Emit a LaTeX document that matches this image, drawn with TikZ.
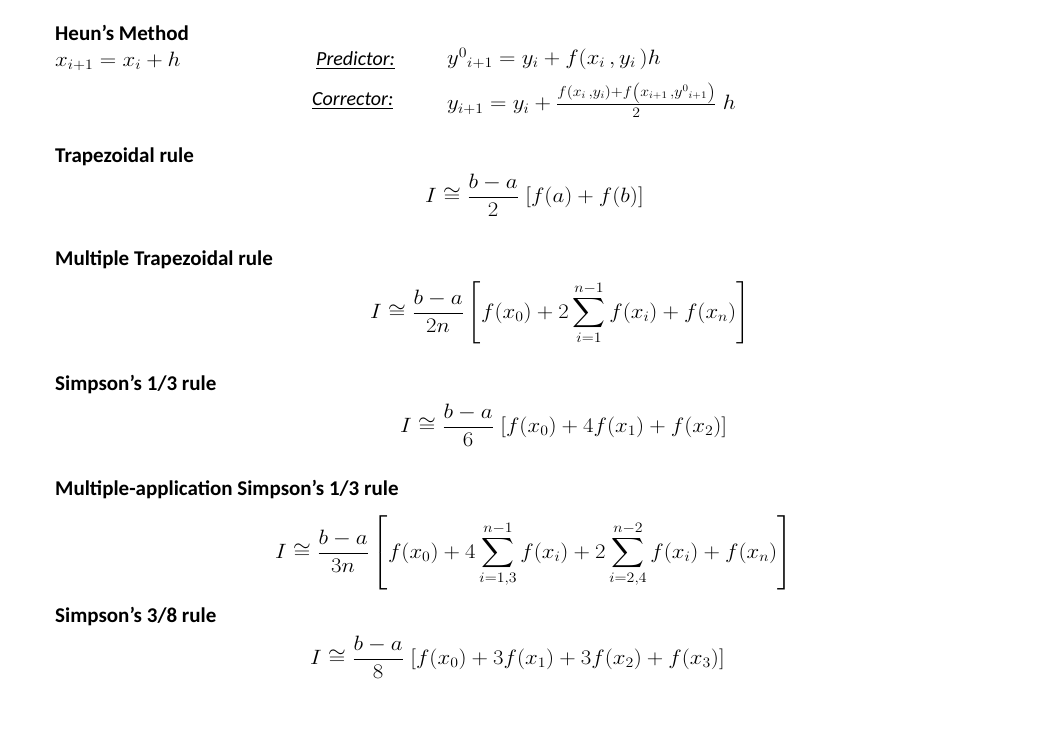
\documentclass[tikz,border=0pt]{standalone}
\usepackage{amsmath}
\usepackage{graphicx}
\usepackage{fontspec}
\setmainfont{Carlito}
\newcommand{\wm}[1]{\scalebox{1.1}[1]{#1}}
\begin{document}
\begin{tikzpicture}[x=1pt,y=-1pt,
  head/.style={anchor=west,inner sep=0,font=\fontsize{21}{24}\selectfont\bfseries},
  lab/.style={anchor=west,inner sep=0,font=\fontsize{20}{24}\selectfont\itshape},
  eq/.style={anchor=west,inner sep=0,font=\fontsize{20}{24}\selectfont}]
\useasboundingbox[fill=white] (0,0) rectangle (1038,736);
\node[head] (h1) at (55,33) {Heun’s Method};
\node[eq] (e0) at (55,61) {\wm{$x_{i+1}=x_i+h$}};
\node[lab] (p) at (316,61) {\underline{Predictor:}};
\node[eq] (e1) at (447,59) {\wm{$y^0{}_{i+1}=y_i+f(x_i\,,y_i\,)h$}};
\node[lab] (c) at (312,101) {\underline{Corrector:}};
\node[eq] (e2) at (447,100) {\wm{$y_{i+1}=y_i+\frac{f(x_i\,,y_i)+f\left(x_{i+1}\,,y^0{}_{i+1}\right)}{2}\;h$}};
\node[head] (h2) at (55,157) {Trapezoidal rule};
\node[eq] (e3) at (425,195) {\wm{$I\cong\dfrac{b-a}{2}\;[f(a)+f(b)]$}};
\node[head] (h3) at (55,260) {Multiple Trapezoidal rule};
\node[eq] (e4) at (370,313) {\wm{$I\cong\dfrac{b-a}{2n}\left[f(x_0)+2\displaystyle\sum_{i=1}^{n-1}f(x_i)+f(x_n)\right]$}};
\node[head] (h4) at (55,385) {Simpson’s 1/3 rule};
\node[eq] (e5) at (400,425) {\wm{$I\cong\dfrac{b-a}{6}\;[f(x_0)+4f(x_1)+f(x_2)]$}};
\node[head] (h5) at (55,490) {Multiple-application Simpson’s 1/3 rule};
\node[eq] (e6) at (275,553) {\wm{$I\cong\dfrac{b-a}{3n}\left[f(x_0)+4\displaystyle\sum_{i=1,3}^{n-1}f(x_i)+2\sum_{i=2,4}^{n-2}f(x_i)+f(x_n)\right]$}};
\node[head] (h6) at (55,617) {Simpson’s 3/8 rule};
\node[eq] (e7) at (310,657) {\wm{$I\cong\dfrac{b-a}{8}\;[f(x_0)+3f(x_1)+3f(x_2)+f(x_3)]$}};
\end{tikzpicture}
\end{document}
